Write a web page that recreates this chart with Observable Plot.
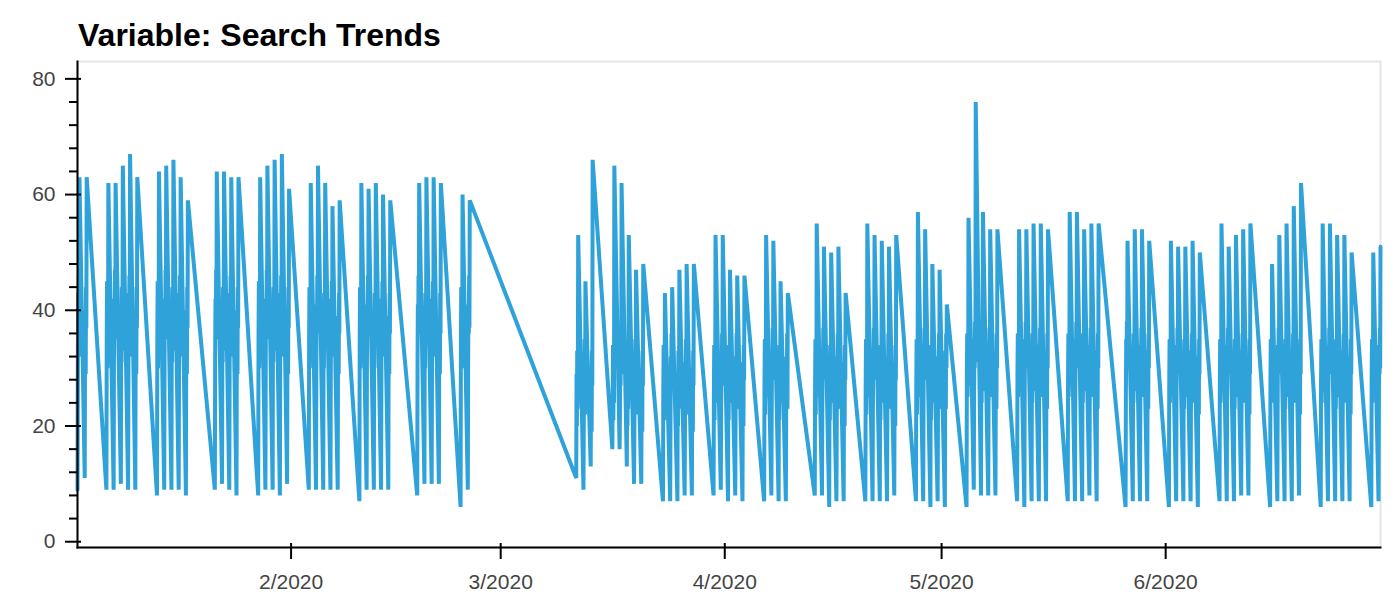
<!DOCTYPE html>
<html>
<head>
<meta charset="utf-8">
<script src="https://cdn.jsdelivr.net/npm/d3@7"></script>
<script src="https://cdn.jsdelivr.net/npm/@observablehq/plot@0.6"></script>
<style>
  body { margin: 0; background: #fff; font-family: "Liberation Sans", Arial, Helvetica, sans-serif; }
  #wrap { position: relative; width: 1400px; height: 600px; overflow: hidden; }
  #title { position: absolute; left: 78px; top: 19px; font-size: 32px; line-height: 32px; font-weight: bold; color: #000; white-space: nowrap; }
  #chart { position: absolute; left: 0; top: 55px; }
</style>
</head>
<body>
<div id="wrap">
  <div id="title">Variable: Search Trends</div>
  <div id="chart"></div>
</div>
<script>
// Trading days shown in the chart
const days = [
  "2020-01-02","2020-01-03","2020-01-06","2020-01-07","2020-01-08","2020-01-09","2020-01-10",
  "2020-01-13","2020-01-14","2020-01-15","2020-01-16","2020-01-17",
  "2020-01-21","2020-01-22","2020-01-23","2020-01-24",
  "2020-01-27","2020-01-28","2020-01-29","2020-01-30","2020-01-31",
  "2020-02-03","2020-02-04","2020-02-05","2020-02-06","2020-02-07",
  "2020-02-10","2020-02-11","2020-02-12","2020-02-13","2020-02-14",
  "2020-02-18","2020-02-19","2020-02-20","2020-02-21",
  "2020-02-24","2020-02-25",
  "2020-03-11","2020-03-12","2020-03-13",
  "2020-03-16","2020-03-17","2020-03-18","2020-03-19","2020-03-20",
  "2020-03-23","2020-03-24","2020-03-25","2020-03-26","2020-03-27",
  "2020-03-30","2020-03-31","2020-04-01","2020-04-02","2020-04-03",
  "2020-04-06","2020-04-07","2020-04-08","2020-04-09",
  "2020-04-13","2020-04-14","2020-04-15","2020-04-16","2020-04-17",
  "2020-04-20","2020-04-21","2020-04-22","2020-04-23","2020-04-24",
  "2020-04-27","2020-04-28","2020-04-29","2020-04-30","2020-05-01",
  "2020-05-04","2020-05-05","2020-05-06","2020-05-07","2020-05-08",
  "2020-05-11","2020-05-12","2020-05-13","2020-05-14","2020-05-15",
  "2020-05-18","2020-05-19","2020-05-20","2020-05-21","2020-05-22",
  "2020-05-26","2020-05-27","2020-05-28","2020-05-29",
  "2020-06-01","2020-06-02","2020-06-03","2020-06-04","2020-06-05",
  "2020-06-08","2020-06-09","2020-06-10","2020-06-11","2020-06-12",
  "2020-06-15","2020-06-16","2020-06-17","2020-06-18","2020-06-19",
  "2020-06-22","2020-06-23","2020-06-24","2020-06-25","2020-06-26",
  "2020-06-29","2020-06-30"
];

// First (lowest) value of each day
const opens = [
  9,11,9,9,10,9,9,
  8,9,9,9,8,
  9,10,9,8,
  8,9,9,8,10,
  9,9,9,9,9,
  7,9,9,9,9,
  8,10,10,10,
  6,9,
  11,9,13,
  16,16,13,10,10,
  7,7,7,8,8,
  8,9,7,8,7,
  7,8,7,7,
  8,8,6,7,7,
  7,7,7,7,8,
  7,7,6,7,6,
  6,9,8,8,8,
  7,6,7,7,7,
  7,7,7,8,7,
  6,7,7,7,
  6,7,7,7,6,
  7,7,7,8,8,
  6,7,7,7,8,
  6,7,7,7,7,
  6,7
];

// Last (highest) value of each day
const closes = [
  63,63,62,62,65,67,63,
  64,65,66,63,59,
  64,64,63,63,
  63,65,66,67,61,
  62,65,62,58,59,
  62,61,62,60,59,
  62,63,63,62,
  60,59,
  53,45,66,
  65,62,53,47,48,
  43,44,47,48,48,
  53,53,47,46,46,
  53,52,45,43,
  55,51,50,51,43,
  55,53,52,51,53,
  57,54,48,47,41,
  56,76,57,54,54,
  54,54,55,55,54,
  57,57,54,55,55,
  52,54,54,52,
  52,51,51,52,50,
  55,51,53,54,55,
  48,53,55,58,62,
  55,55,53,53,50,
  50,51
];

// Intraday values between first and last reading, per month, Monday..Friday
const midsJan = [[36,45,30,41,34],[32,42,35,47,38],[38,31,44,33,40],[30,43,36,46,32],[35,40,29,44,37]];
const midsFeb = [[35,44,30,40,33],[31,41,36,46,37],[37,30,43,34,39],[30,42,35,45,32],[34,39,29,43,36]];
const midsMar = [[26,34,21,31,24],[22,32,27,36,29],[29,20,33,23,30],[20,31,26,35,22],[25,30,19,33,27]];
const midsApr = [[27,35,22,32,25],[23,33,28,37,30],[30,21,34,24,31],[21,32,27,36,23],[26,31,20,34,28]];
const midsMay = [[29,36,25,34,27],[25,35,30,38,31],[32,24,36,26,33],[24,34,29,37,25],[28,33,23,36,30]];
const midsJun = [[28,35,24,33,26],[24,34,29,37,30],[31,23,35,25,32],[23,33,28,36,24],[27,32,22,35,29]];
const monthMids = [midsJan, midsFeb, midsMar, midsApr, midsMay, midsJun];

// Reading times within each day (UTC)
const session = ["10:50", "11:55", "13:00", "14:05", "15:10", "16:15", "17:20"];

// Axis ticks
const xTicks = ["2020-02-01", "2020-03-01", "2020-04-01", "2020-05-01", "2020-06-01"];
const yMajor = [0, 20, 40, 60, 80];
const yMinor = [4, 8, 12, 16, 24, 28, 32, 36, 44, 48, 52, 56, 64, 68, 72, 76];
const yDomain = [-1, 83];

const rows = [];
days.forEach((day, i) => {
  const date = new Date(day + "T00:00:00Z");
  const mids = monthMids[date.getUTCMonth()][date.getUTCDay() - 1];
  const vals = [opens[i], ...mids, closes[i]];
  vals.forEach((v, k) => rows.push({ t: new Date(`${day}T${session[k]}:00Z`), v }));
});

const chart = Plot.plot({
  width: 1400,
  height: 545,
  marginLeft: 77,
  marginRight: 20,
  marginTop: 6,
  marginBottom: 53,
  style: {
    fontFamily: '"Liberation Sans", Arial, Helvetica, sans-serif',
    fontSize: "21px",
    color: "#000",
    background: "#fff",
    overflow: "visible"
  },
  x: { type: "utc", domain: [rows[0].t, rows[rows.length - 1].t] },
  y: { domain: yDomain },
  marks: [
    Plot.frame({ stroke: "#e5e5e5", strokeWidth: 2 }),
    Plot.line(rows, { x: "t", y: "v", stroke: "#30a2da", strokeWidth: 4, strokeLinejoin: "bevel" }),
    Plot.frame({ anchor: "left", stroke: "#000", strokeWidth: 2 }),
    Plot.frame({ anchor: "bottom", stroke: "#000", strokeWidth: 2 }),
    Plot.axisY(yMajor, { tickSize: 16, dx: 4, tickPadding: 10, label: null, stroke: "#000", strokeWidth: 2, fill: "#444" }),
    Plot.axisY(yMinor, { tickSize: 8, tickFormat: () => "", label: null, stroke: "#000", strokeWidth: 2 }),
    Plot.axisX(xTicks.map(d => new Date(d + "T00:00:00Z")), {
      tickSize: 16, dy: -4, tickPadding: 15, label: null,
      tickFormat: d3.utcFormat("%-m/%Y"), stroke: "#000", strokeWidth: 2, fill: "#444"
    })
  ]
});
document.getElementById("chart").appendChild(chart);
</script>
</body>
</html>
